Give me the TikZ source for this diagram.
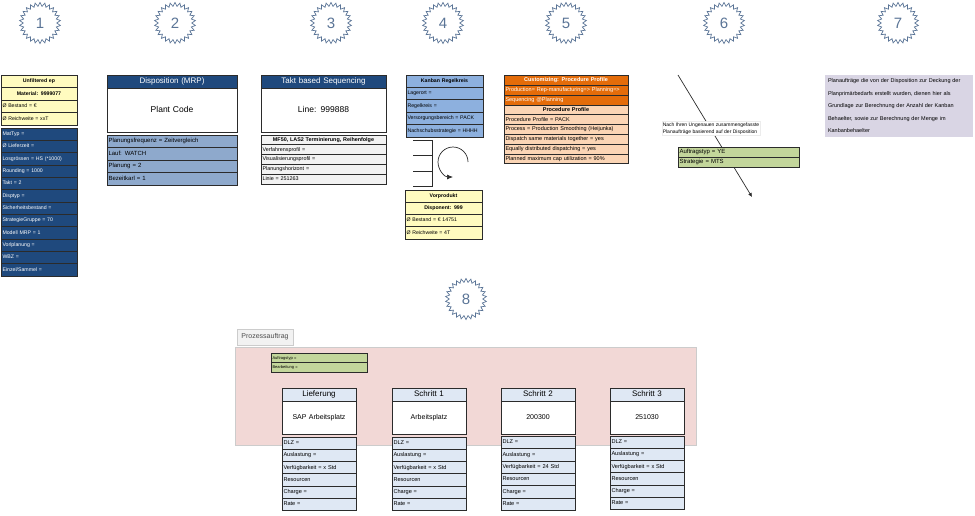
\documentclass[tikz,border=0pt]{standalone}
\usepackage{fontspec}
\setmainfont{Liberation Sans}
\usetikzlibrary{shapes.geometric,arrows.meta}
\definecolor{starblue}{HTML}{5A7496}
\definecolor{linedark}{HTML}{2B2B2B}
\definecolor{navy}{HTML}{1F497D}
\definecolor{midblue}{HTML}{8DB0DE}
\definecolor{steelblue}{HTML}{8EA9CC}
\definecolor{paleblue}{HTML}{DFE8F4}
\definecolor{paleyellow}{HTML}{FFFBBF}
\definecolor{paleorange}{HTML}{FBD5B5}
\definecolor{deeporange}{HTML}{E46C0A}
\definecolor{palegray}{HTML}{F2F2F2}
\definecolor{olive}{HTML}{C3D69B}
\definecolor{lavender}{HTML}{D9D5E4}
\definecolor{palepink}{HTML}{F2D8D6}
\newcommand{\cellsize}{\fontsize{5.2}{6}\selectfont}
\newcommand{\platesize}{\fontsize{8.5}{9}\selectfont}
\tikzset{
	badge/.style={star,star points=26,star point ratio=1.22,draw=starblue,line width=.7pt,minimum size=41pt,inner sep=0pt,text=starblue,font=\fontsize{15}{15}\selectfont},
	cell/.style={draw=linedark,line width=.9pt,anchor=north west,outer sep=0pt,inner xsep=1.5pt,inner ysep=0pt,align=left,font=\cellsize,text height=3.7pt,text depth=1.1pt},
	head/.style={cell,align=center,font=\cellsize\bfseries},
	title/.style={cell,align=center,font=\fontsize{8}{9}\selectfont,text height=6pt,text depth=1.5pt},
	plate/.style={cell,fill=white,align=center,font=\platesize,text height=6pt,text depth=1.5pt},
	rowyellow/.style={fill=paleyellow,minimum height=12.5pt},
	rownavy/.style={fill=navy,text=white,minimum height=12.33pt},
	rowsteel/.style={fill=steelblue,minimum height=12.5pt},
	rowgray/.style={fill=palegray,minimum height=9.8pt},
	rowmid/.style={fill=midblue,minimum height=12.4pt},
	roworange/.style={fill=deeporange,text=white,minimum height=10pt},
	rowpeach/.style={fill=paleorange,minimum height=9.8pt},
	rowolive/.style={fill=olive},
	rowpale/.style={fill=paleblue,minimum height=12.3pt},
}
\begin{document}
\begin{tikzpicture}[x=1pt,y=-1pt]
	\useasboundingbox (0,0) rectangle (975,515);

	\node[badge] (star1) at (40,23) {1};
	\node[badge] (star2) at (175,23) {2};
	\node[badge] (star3) at (331,23) {3};
	\node[badge] (star4) at (443,23) {4};
	\node[badge] (star5) at (566,23) {5};
	\node[badge] (star6) at (724,23) {6};
	\node[badge] (star7) at (898,23) {7};
	\node[badge] (star8) at (466,299) {8};

	% block 1
	\begin{scope}[every node/.append style={text width=73pt}]
		\node[head,rowyellow] (a1) at (1,75) {Unfiltered ep};
		\node[head,rowyellow] (a2) at (1,87.5) {Material: 9999077};
		\node[cell,rowyellow] (a3) at (1,100) {Ø Bestand = €};
		\node[cell,rowyellow] (a4) at (1,112.5) {Ø Reichweite = xxT};

		\node[cell,rownavy] (n1) at (1,128) {MatTyp =};
		\node[cell,rownavy] (n2) at (1,140.33) {Ø Lieferzeit =};
		\node[cell,rownavy] (n3) at (1,152.67) {Losgrössen = HS (*1000)};
		\node[cell,rownavy] (n4) at (1,165) {Rounding = 1000};
		\node[cell,rownavy] (n5) at (1,177.33) {Takt = 2};
		\node[cell,rownavy] (n6) at (1,189.67) {Disptyp =};
		\node[cell,rownavy] (n7) at (1,202) {Sicherheitsbestand =};
		\node[cell,rownavy] (n8) at (1,214.33) {StrategieGruppe = 70};
		\node[cell,rownavy] (n9) at (1,226.67) {Modell MRP = 1};
		\node[cell,rownavy] (n10) at (1,239) {Vorlplanung =};
		\node[cell,rownavy] (n11) at (1,251.33) {WBZ =};
		\node[cell,rownavy] (n12) at (1,263.67) {Einzel/Sammel =};
	\end{scope}

	% block 2
	\begin{scope}[every node/.append style={text width=127pt}]
		\renewcommand{\cellsize}{\fontsize{6}{7}\selectfont}
		\node[title,fill=navy,text=white,minimum height=13pt] (b0) at (107,75) {Disposition (MRP)};
		\node[plate,minimum height=44pt] (b1) at (107,88) {Plant Code};
		\node[cell,rowsteel] (b2) at (107,135) {Planungsfrequenz = Zeitvergleich};
		\node[cell,rowsteel] (b3) at (107,147.5) {Lauf: WATCH};
		\node[cell,rowsteel] (b4) at (107,160) {Planung = 2};
		\node[cell,rowsteel] (b5) at (107,172.5) {Bezeitkarl = 1};
	\end{scope}

	% block 3
	\begin{scope}[every node/.append style={text width=122pt}]
		\renewcommand{\cellsize}{\fontsize{5.4}{6}\selectfont}
		\node[title,fill=navy,text=white,minimum height=13pt] (c0) at (261,75) {Takt based Sequencing};
		\node[plate,minimum height=44pt] (c1) at (261,88) {Line: 999888};
		\node[head,rowgray] (c2) at (261,135) {MF50, LAS2 Terminierung, Reihenfolge};
		\node[cell,rowgray] (c3) at (261,144.8) {Verfahrensprofil =};
		\node[cell,rowgray] (c4) at (261,154.6) {Visualisierungsprofil =};
		\node[cell,rowgray] (c5) at (261,164.4) {Planungshorizont =};
		\node[cell,rowgray] (c6) at (261,174.2) {Linie = 251263};
	\end{scope}

	% block 4
	\begin{scope}[every node/.append style={text width=74pt}]
		\node[head,rowmid] (d1) at (406,75) {Kanban Regelkreis};
		\node[cell,rowmid] (d2) at (406,87.4) {Lagerort =};
		\node[cell,rowmid] (d3) at (406,99.8) {Regelkreis =};
		\node[cell,rowmid] (d4) at (406,112.2) {Versorgungsbereich = PACK};
		\node[cell,rowmid] (d5) at (406,124.6) {Nachschubsstrategie = HHHH};
		\node[head,rowyellow,minimum height=12.25pt] (e1) at (405,190) {Vorprodukt};
		\node[head,rowyellow,minimum height=12.25pt] (e2) at (405,202.25) {Disponent: 999};
		\node[cell,rowyellow,minimum height=12.25pt] (e3) at (405,214.5) {Ø Bestand = € 14751};
		\node[cell,rowyellow,minimum height=12.25pt] (e4) at (405,226.75) {Ø Reichweite = 4T};
	\end{scope}
	\draw[linedark,line width=.7pt] (413,140) -- (432,140) -- (432,186) -- (413,186);
	\draw[linedark,line width=.7pt] (413,155) -- (432,155);
	\draw[linedark,line width=.7pt] (413,171) -- (432,171);
	\draw[linedark,line width=.7pt,-{Latex[length=6pt,width=5pt]}] (468,162) arc[start angle=0,end angle=-270,radius=15];

	% block 5
	\begin{scope}[every node/.append style={text width=121pt}]
		\renewcommand{\cellsize}{\fontsize{5.5}{6}\selectfont}
		\node[head,roworange] (f1) at (504,75) {Customizing: Procedure Profile};
		\node[cell,roworange] (f2) at (504,85) {Production= Rep-manufacturing=> Planning=>};
		\node[cell,roworange] (f3) at (504,95) {Sequencing @Planning};
		\node[head,rowpeach] (g1) at (504,105) {Procedure Profile};
		\node[cell,rowpeach] (g2) at (504,114.8) {Procedure Profile = PACK};
		\node[cell,rowpeach] (g3) at (504,124.6) {Process = Production Smoothing (Heijunka)};
		\node[cell,rowpeach] (g4) at (504,134.4) {Dispatch same materials together = yes};
		\node[cell,rowpeach] (g5) at (504,144.2) {Equally distributed dispatching = yes};
		\node[cell,rowpeach] (g6) at (504,154) {Planned maximum cap utilization = 90\%};
	\end{scope}

	% block 6
	\coordinate (from6) at (678,75);
	\coordinate (to6) at (752,197);
	\draw[linedark,line width=.7pt,-{Latex[length=4pt,width=4pt]}] (from6) -- (to6);
	\node[draw=gray!15,fill=white,inner sep=1pt,align=left,font=\fontsize{5}{7.3}\selectfont] (note6) at (711,128.5) {Nach Ihren Ungenauen zusammengefasste\\Planaufträge basierend auf der Disposition};
	\begin{scope}[every node/.append style={text width=118pt,inner xsep=3pt}]
		\renewcommand{\cellsize}{\fontsize{6}{7}\selectfont}
		\node[cell,rowolive,minimum height=10pt] (h1) at (678,147) {Auftragstyp = YE};
		\node[cell,rowolive,minimum height=10pt] (h2) at (678,157) {Strategie = MTS};
	\end{scope}

	% block 7
	\node[fill=lavender,anchor=north west,outer sep=0pt,inner xsep=3pt,inner ysep=0pt,text width=142pt,minimum height=62pt,align=left,font=\fontsize{5.5}{12.5}\selectfont] (note7) at (825,75) {Planaufträge die von der Disposition zur Deckung der\\Planprimärbedarfs erstellt wurden, dienen hier als\\Grundlage zur Berechnung der Anzahl der Kanban\\Behaelter, sowie zur Berechnung der Menge im\\Kanbanbehaelter};

	% block 8
	\node[draw=gray!40,fill=palegray,anchor=north west,outer sep=0pt,inner xsep=3pt,inner ysep=0pt,minimum width=56pt,minimum height=16pt,font=\fontsize{7}{8}\selectfont,text=black!70] (tab8) at (237,329) {Prozessauftrag};
	\node[draw=gray!40,fill=palepink,anchor=north west,outer sep=0pt,minimum width=461pt,minimum height=98pt] (area8) at (235,347) {};
	\begin{scope}[every node/.append style={text width=93pt}]
		\renewcommand{\cellsize}{\fontsize{4}{5}\selectfont}
		\node[cell,rowolive,minimum height=9.5pt] (k1) at (271,353) {Auftragstyp =};
		\node[cell,rowolive,minimum height=9.5pt] (k2) at (271,362.5) {Bearbeitung =};
	\end{scope}

	\begin{scope}[every node/.append style={text width=71pt}]
		\renewcommand{\cellsize}{\fontsize{5.6}{6}\selectfont}
		\renewcommand{\platesize}{\fontsize{7}{8}\selectfont}
		\node[title,fill=paleblue,minimum height=13pt] (l0) at (282,388) {Lieferung};
		\node[plate,minimum height=33pt] (l1) at (282,401) {SAP Arbeitsplatz};
		\node[cell,rowpale] (l2) at (282,437) {DLZ =};
		\node[cell,rowpale] (l3) at (282,449.3) {Auslastung =};
		\node[cell,rowpale] (l4) at (282,461.6) {Verfügbarkeit = x Std};
		\node[cell,rowpale] (l5) at (282,473.9) {Resourcen};
		\node[cell,rowpale] (l6) at (282,486.2) {Charge =};
		\node[cell,rowpale] (l7) at (282,498.5) {Rate =};

		\node[title,fill=paleblue,minimum height=13pt] (m0) at (392,388) {Schritt 1};
		\node[plate,minimum height=33pt] (m1) at (392,401) {Arbeitsplatz};
		\node[cell,rowpale] (m2) at (392,437) {DLZ =};
		\node[cell,rowpale] (m3) at (392,449.3) {Auslastung =};
		\node[cell,rowpale] (m4) at (392,461.6) {Verfügbarkeit = x Std};
		\node[cell,rowpale] (m5) at (392,473.9) {Resourcen};
		\node[cell,rowpale] (m6) at (392,486.2) {Charge =};
		\node[cell,rowpale] (m7) at (392,498.5) {Rate =};

		\node[title,fill=paleblue,minimum height=13pt] (p0) at (501,388) {Schritt 2};
		\node[plate,minimum height=33pt] (p1) at (501,401) {200300};
		\node[cell,rowpale] (p2) at (501,436.5) {DLZ =};
		\node[cell,rowpale] (p3) at (501,448.8) {Auslastung =};
		\node[cell,rowpale] (p4) at (501,461.1) {Verfügbarkeit = 24 Std};
		\node[cell,rowpale] (p5) at (501,473.4) {Resourcen};
		\node[cell,rowpale] (p6) at (501,485.7) {Charge =};
		\node[cell,rowpale] (p7) at (501,498) {Rate =};

		\node[title,fill=paleblue,minimum height=13pt] (q0) at (610,388) {Schritt 3};
		\node[plate,minimum height=33pt] (q1) at (610,401) {251030};
		\node[cell,rowpale] (q2) at (610,436) {DLZ =};
		\node[cell,rowpale] (q3) at (610,448.3) {Auslastung =};
		\node[cell,rowpale] (q4) at (610,460.6) {Verfügbarkeit = x Std};
		\node[cell,rowpale] (q5) at (610,472.9) {Resourcen};
		\node[cell,rowpale] (q6) at (610,485.2) {Charge =};
		\node[cell,rowpale] (q7) at (610,497.5) {Rate =};
	\end{scope}
\end{tikzpicture}
\end{document}
